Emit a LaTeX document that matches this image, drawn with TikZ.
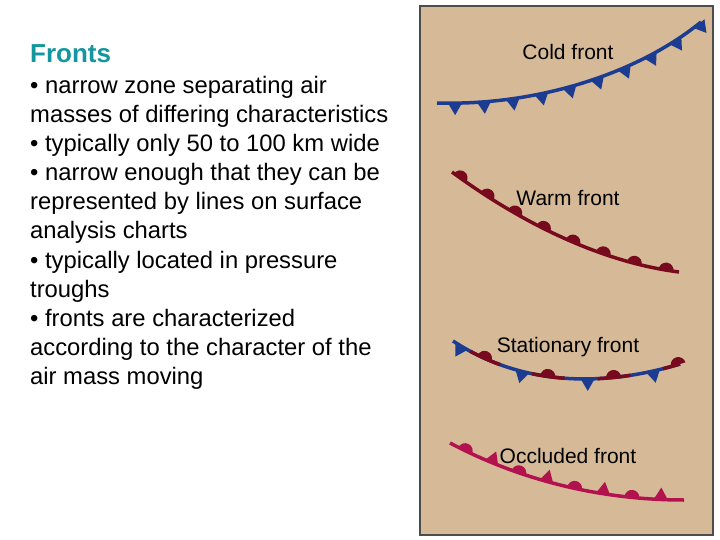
\documentclass[tikz,border=0pt]{standalone}
\usepackage{fontspec}
\setmainfont{Liberation Sans}
\usetikzlibrary{decorations.markings}
\definecolor{tan}{RGB}{214,186,152}
\definecolor{cblue}{RGB}{28,60,145}
\definecolor{wred}{RGB}{120,10,30}
\definecolor{ocol}{RGB}{178,18,78}
\definecolor{teal}{RGB}{20,150,160}
\tikzset{
 tri/.style={decoration={markings,mark=#1 with {\fill (-7pt,0)--(7pt,0)--(0,-12pt)--cycle;}},postaction=decorate},
 triup/.style={decoration={markings,mark=#1 with {\fill (-7pt,0)--(7pt,0)--(0,12pt)--cycle;}},postaction=decorate},
 semi/.style={decoration={markings,mark=#1 with {\fill (-7.5pt,0) arc[start angle=180,end angle=0,radius=7.5pt]--cycle;}},postaction=decorate},
 body/.style={anchor=base west,font=\fontsize{23.8}{26}\selectfont,inner sep=0},
 lab/.style={font=\fontsize{21}{24}\selectfont,inner sep=0},
 front/.style={line width=3.5pt}
}
\begin{document}
\begin{tikzpicture}[x=1pt,y=-1pt]
\useasboundingbox (0,0) rectangle (720,540);
\fill[white] (0,0) rectangle (720,540);
\draw[fill=tan,draw=black!70,line width=1.5pt] (420,6) rectangle (713,535);
\node[anchor=base west,inner sep=0,font=\fontsize{26}{28}\selectfont\bfseries,text=teal] (t0) at (30,63) {Fronts};
\node[body] (l1) at (30,94) {• narrow zone separating air};
\node[body] (l2) at (30,123) {masses of differing characteristics};
\node[body] (l3) at (30,152) {• typically only 50 to 100 km wide};
\node[body] (l4) at (30,181) {• narrow enough that they can be};
\node[body] (l5) at (30,210) {represented by lines on surface};
\node[body] (l6) at (30,239) {analysis charts};
\node[body] (l7) at (30,268) {• typically located in pressure};
\node[body] (l8) at (30,297) {troughs};
\node[body] (l9) at (30,326) {• fronts are characterized};
\node[body] (l10) at (30,355) {according to the character of the};
\node[body] (l11) at (30,384) {air mass moving};
% labels
\node[lab] (c) at (568,52) {Cold front};
\node[lab] (w) at (568,198) {Warm front};
\node[lab] (s) at (568,347) {Stationary front};
\node[lab] (o) at (568,456) {Occluded front};
% cold
\draw[front,cblue] (437,103) .. controls (540,106) and (640,72) .. (701,22);
\path[cblue,tri={between positions 18pt and 1 step 29pt}] (437,103) .. controls (540,106) and (640,72) .. (701,22);
% warm
\draw[front,wred] (452,172) .. controls (520,222) and (600,262) .. (679,272);
\path[wred,semi={between positions 10pt and 1 step 32.5pt}] (452,172) .. controls (520,222) and (600,262) .. (679,272);
% stationary
\draw[front,cblue] (453,341) .. controls (520,385) and (600,388) .. (680,364);
\draw[front,wred,dash pattern=on 33pt off 33pt,dash phase=46pt] (453,341) .. controls (520,385) and (600,388) .. (680,364);
\path[cblue,tri={between positions 10pt and 1 step 66pt}] (453,341) .. controls (520,385) and (600,388) .. (680,364);
\path[wred,semi={between positions 36pt and 1 step 66pt}] (453,341) .. controls (520,385) and (600,388) .. (680,364);
% occluded
\draw[front,ocol] (450,443) .. controls (520,480) and (600,500) .. (684,500);
\path[ocol,semi={between positions 17pt and 1 step 58pt}] (450,443) .. controls (520,480) and (600,500) .. (684,500);
\path[ocol,triup={between positions 46pt and 1 step 58pt}] (450,443) .. controls (520,480) and (600,500) .. (684,500);
\end{tikzpicture}
\end{document}
